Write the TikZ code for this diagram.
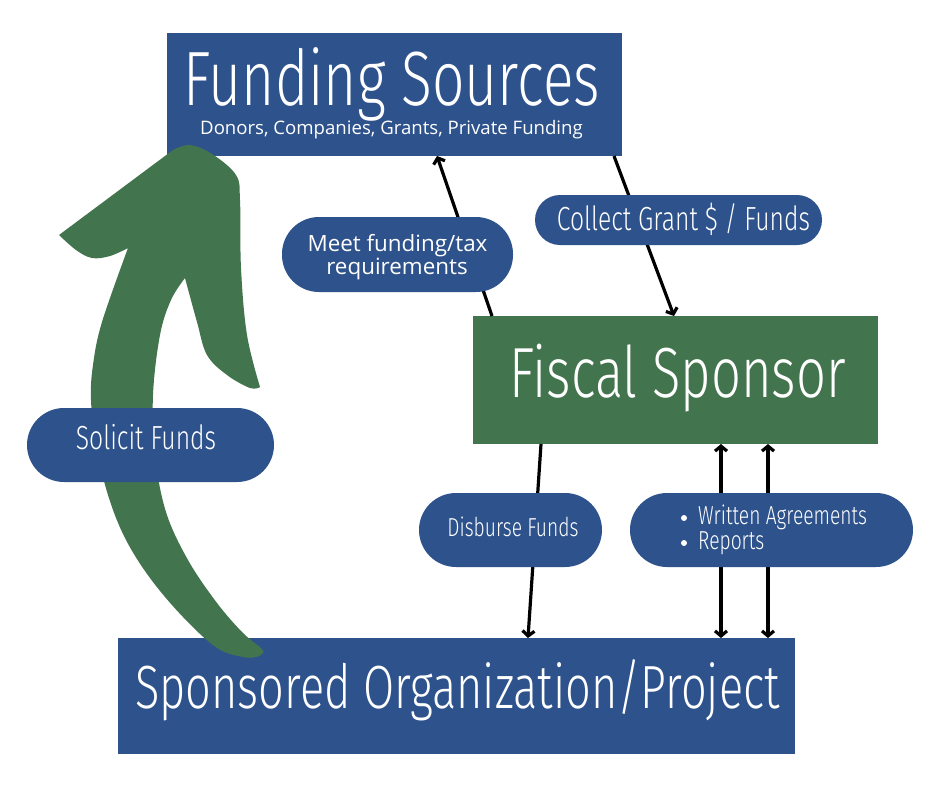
\documentclass[tikz,border=0pt]{standalone}
\usepackage{fontspec}
\usetikzlibrary{arrows.meta}
\newfontfamily\condfont{Fira Sans Light}[FakeStretch=0.74]
\newfontfamily\opensans{Open Sans}
\definecolor{fsblue}{RGB}{46,82,140}
\definecolor{fsgreen}{RGB}{66,116,77}
\begin{document}
\begin{tikzpicture}[x=1pt,y=-1pt,
  box/.style={draw=none,inner sep=0pt,outer sep=0pt},
  pill/.style={box,fill=fsblue},
  conn/.style={line width=3.2pt,draw=black,-{Straight Barb[length=5pt,width=12pt]}},
  both/.style={line width=3.2pt,draw=black,{Straight Barb[length=5pt,width=12pt]}-{Straight Barb[length=5pt,width=12pt]}},
  ctext/.style={text=white,inner sep=0pt,anchor=base,font=\condfont},
  otext/.style={text=white,inner sep=0pt,anchor=base,font=\opensans}]
\useasboundingbox (0,0) rectangle (940,788);
\fill[white] (0,0) rectangle (940,788);
% main boxes
\node[box,fill=fsblue,minimum width=455pt,minimum height=123pt] (funding) at (394.5,94.5) {};
\node[box,fill=fsgreen,minimum width=405pt,minimum height=128pt] (fiscal) at (675.5,380) {};
\node[box,fill=fsblue,minimum width=677pt,minimum height=116pt] (sponsored) at (456.5,696) {};
% green curved arrow
\fill[fsgreen]
  plot[smooth,tension=0.6] coordinates {(173,150) (190,145) (212,154) (236,175) (240,200) (241,268) (247,335) (260,387)}
  -- plot[smooth,tension=0.6] coordinates {(260,387) (250,388) (227,375) (207,355) (197,322) (185,278)}
  -- plot[smooth,tension=0.6] coordinates {(185,278) (171,300) (160,335) (153,395) (155,455) (166,512) (188,560) (217,603) (243,633) (262,649) (262,654) (256,657) (243,657) (217,648) (183,617) (150,578) (125,538) (108,495) (96,445) (91,400) (93,365) (102,322) (128,248)}
  -- plot[smooth,tension=0.6] coordinates {(128,248) (110,256) (92,258) (76,250) (59,235)}
  -- cycle;
% connectors
\draw[conn] ([xshift=19pt]fiscal.north west) -- ([xshift=270pt]funding.south west);
\draw[conn] ([xshift=447pt]funding.south west) -- ([xshift=201pt]fiscal.north west);
\draw[conn] ([xshift=68pt]fiscal.south west) -- ([xshift=410pt]sponsored.north west);
\draw[both] ([xshift=248pt]fiscal.south west) -- ([xshift=603pt]sponsored.north west);
\draw[both] ([xshift=295pt]fiscal.south west) -- ([xshift=650pt]sponsored.north west);
% pills
\node[pill,minimum width=247pt,minimum height=74pt,rounded corners=37pt] (solicit) at (150.5,445) {};
\node[pill,minimum width=231pt,minimum height=75pt,rounded corners=37pt] (meet) at (397.5,254.5) {};
\node[pill,minimum width=287pt,minimum height=50pt,rounded corners=25pt] (collect) at (678.5,220) {};
\node[pill,minimum width=183pt,minimum height=74pt,rounded corners=37pt] (disburse) at (510.5,530) {};
\node[pill,minimum width=283pt,minimum height=74pt,rounded corners=37pt] (written) at (771.5,530) {};
% texts
\node[ctext,text depth=0pt,font=\condfont\fontsize{77}{77}\selectfont] (tfunding) at (392,105) {Funding Sources};
\node[otext,font=\opensans\fontsize{18.6}{20}\selectfont] (tdonors) at (391.5,134) {Donors, Companies, Grants, Private Funding};
\node[ctext,font=\condfont\fontsize{71}{71}\selectfont] (tfiscal) at (677.5,397) {Fiscal Sponsor};
\node[ctext,font=\condfont\fontsize{61}{61}\selectfont] (tsponsored) at (457.5,708) {Sponsored Organization/Project};
\node[ctext,font=\condfont\fontsize{33.4}{33.4}\selectfont] (tsolicit) at (146,449) {Solicit Funds};
\node[otext,font=\opensans\fontsize{22.4}{23}\selectfont] (tmeet1) at (397.5,251) {Meet funding/tax};
\node[otext,font=\opensans\fontsize{22.4}{23}\selectfont] (tmeet2) at (397,274) {requirements};
\node[ctext,font=\condfont\fontsize{33.4}{33.4}\selectfont] (tcollect) at (683.5,230) {Collect Grant \$ / Funds};
\node[ctext,font=\condfont\fontsize{26}{26}\selectfont] (tdisburse) at (513,536) {Disburse Funds};
\node[ctext,anchor=base west,font=\condfont\fontsize{26}{26}\selectfont] (twritten) at (698,524) {Written Agreements};
\node[ctext,anchor=base west,font=\condfont\fontsize{26}{26}\selectfont] (treports) at (698,549) {Reports};
\fill[white] (684,518) circle (3pt);
\fill[white] (684,543) circle (3pt);
\end{tikzpicture}
\end{document}
